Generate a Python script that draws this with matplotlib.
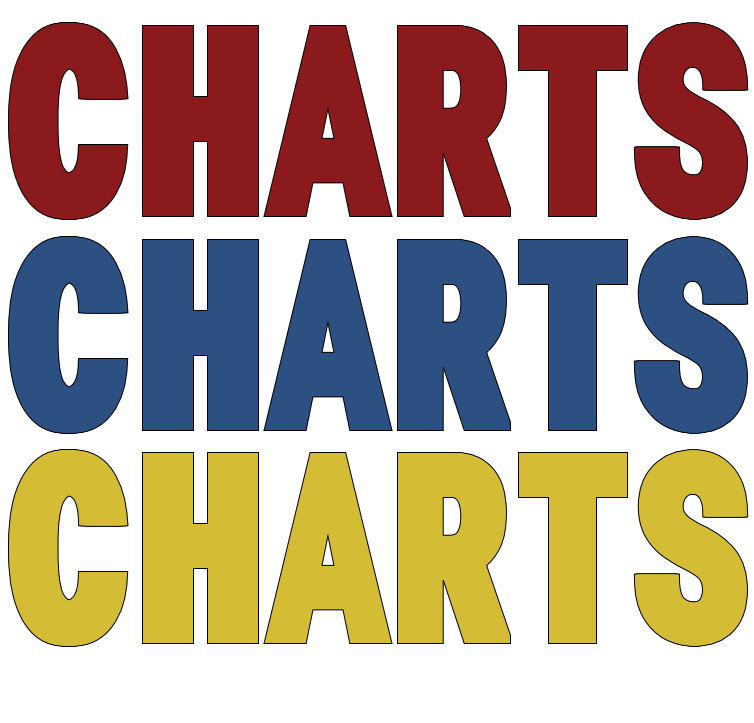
import matplotlib
matplotlib.use('Agg')
import numpy as np
import matplotlib.pyplot as plt
import matplotlib.patheffects as pe
from matplotlib.font_manager import FontProperties
from matplotlib.textpath import TextPath
from matplotlib.transforms import Affine2D
from matplotlib.colors import to_rgb

# three rows of the same word, one colour each
words = ['CHARTS', 'CHARTS', 'CHARTS']
fill_colors = ['#8b1a1c', '#2c5082', '#d4bc34']

# layout in pixels (top-left origin)
row_tops = [26, 240, 453]
row_bottoms = [216, 430, 643]
letter_lefts = [9, 143, 266, 398, 519, 635]
letter_rights = [127, 258, 390, 510, 627, 747]
# extra weight on the vertical strokes of each letter, px
letter_smears = [10, 14, 0, 6, 12, 4]

GROW = 10     # px of extra weight added all round every glyph
EDGE = 1.0    # px of black outline

fp = FontProperties(family=['Roboto', 'DejaVu Sans'], weight='black')
cap_h = TextPath((0, 0), 'H', size=100, prop=fp).get_extents().y1


class FitBox(pe.AbstractPathEffect):
    """squeeze a glyph into a pixel box, fatten it and outline it"""

    def __init__(self, ax, box, fill, smear):
        super().__init__()
        self.ax = ax
        self.box = box
        self.fill = to_rgb(fill)
        self.smear = smear

    def draw_path(self, renderer, gc, tpath, affine, rgbFace=None):
        x0, x1, top, bottom = self.box
        (dx0, dy0), (dx1, dy1) = self.ax.transData.transform([(x0, bottom), (x1, top)])
        ext = tpath.get_extents()
        sx = (dx1 - dx0 - GROW - self.smear) / ext.width
        sy = (dy1 - dy0 - GROW) / cap_h
        base = Affine2D().translate(-ext.x0, 0).scale(sx, sy)
        offsets = np.linspace(0, self.smear, int(self.smear) + 1)
        affs = [base + Affine2D().translate(dx0 + GROW / 2 + o, dy0 + GROW / 2)
                for o in offsets]

        px2pt = 72.0 / 100.0
        gc0 = renderer.new_gc()
        gc0.copy_properties(gc)
        gc0.set_joinstyle('miter')
        gc0.set_capstyle('butt')
        gc0.set_foreground('black')
        gc0.set_linewidth((GROW + 2 * EDGE) * px2pt)
        for aff in affs:
            renderer.draw_path(gc0, tpath, aff, None)
        gc0.set_foreground(self.fill)
        for aff in affs:
            gc0.set_linewidth(GROW * px2pt)
            renderer.draw_path(gc0, tpath, aff, None)
            gc0.set_linewidth(0)
            renderer.draw_path(gc0, tpath, aff, self.fill)
        gc0.restore()


fig = plt.figure(figsize=(7.54, 7.23), dpi=100)
ax = fig.add_axes([0, 0, 1, 1])
ax.set_xlim(0, 754)
ax.set_ylim(723, 0)
ax.axis('off')

for word, col, top, bottom in zip(words, fill_colors, row_tops, row_bottoms):
    for ch, left, right, sm in zip(word, letter_lefts, letter_rights, letter_smears):
        ax.text((left + right) / 2, bottom, ch, fontproperties=fp, fontsize=60,
                color=col, ha='center', va='baseline',
                path_effects=[FitBox(ax, (left, right, top, bottom), col, sm)])

fig.savefig('out.png', dpi=100, facecolor='white')
